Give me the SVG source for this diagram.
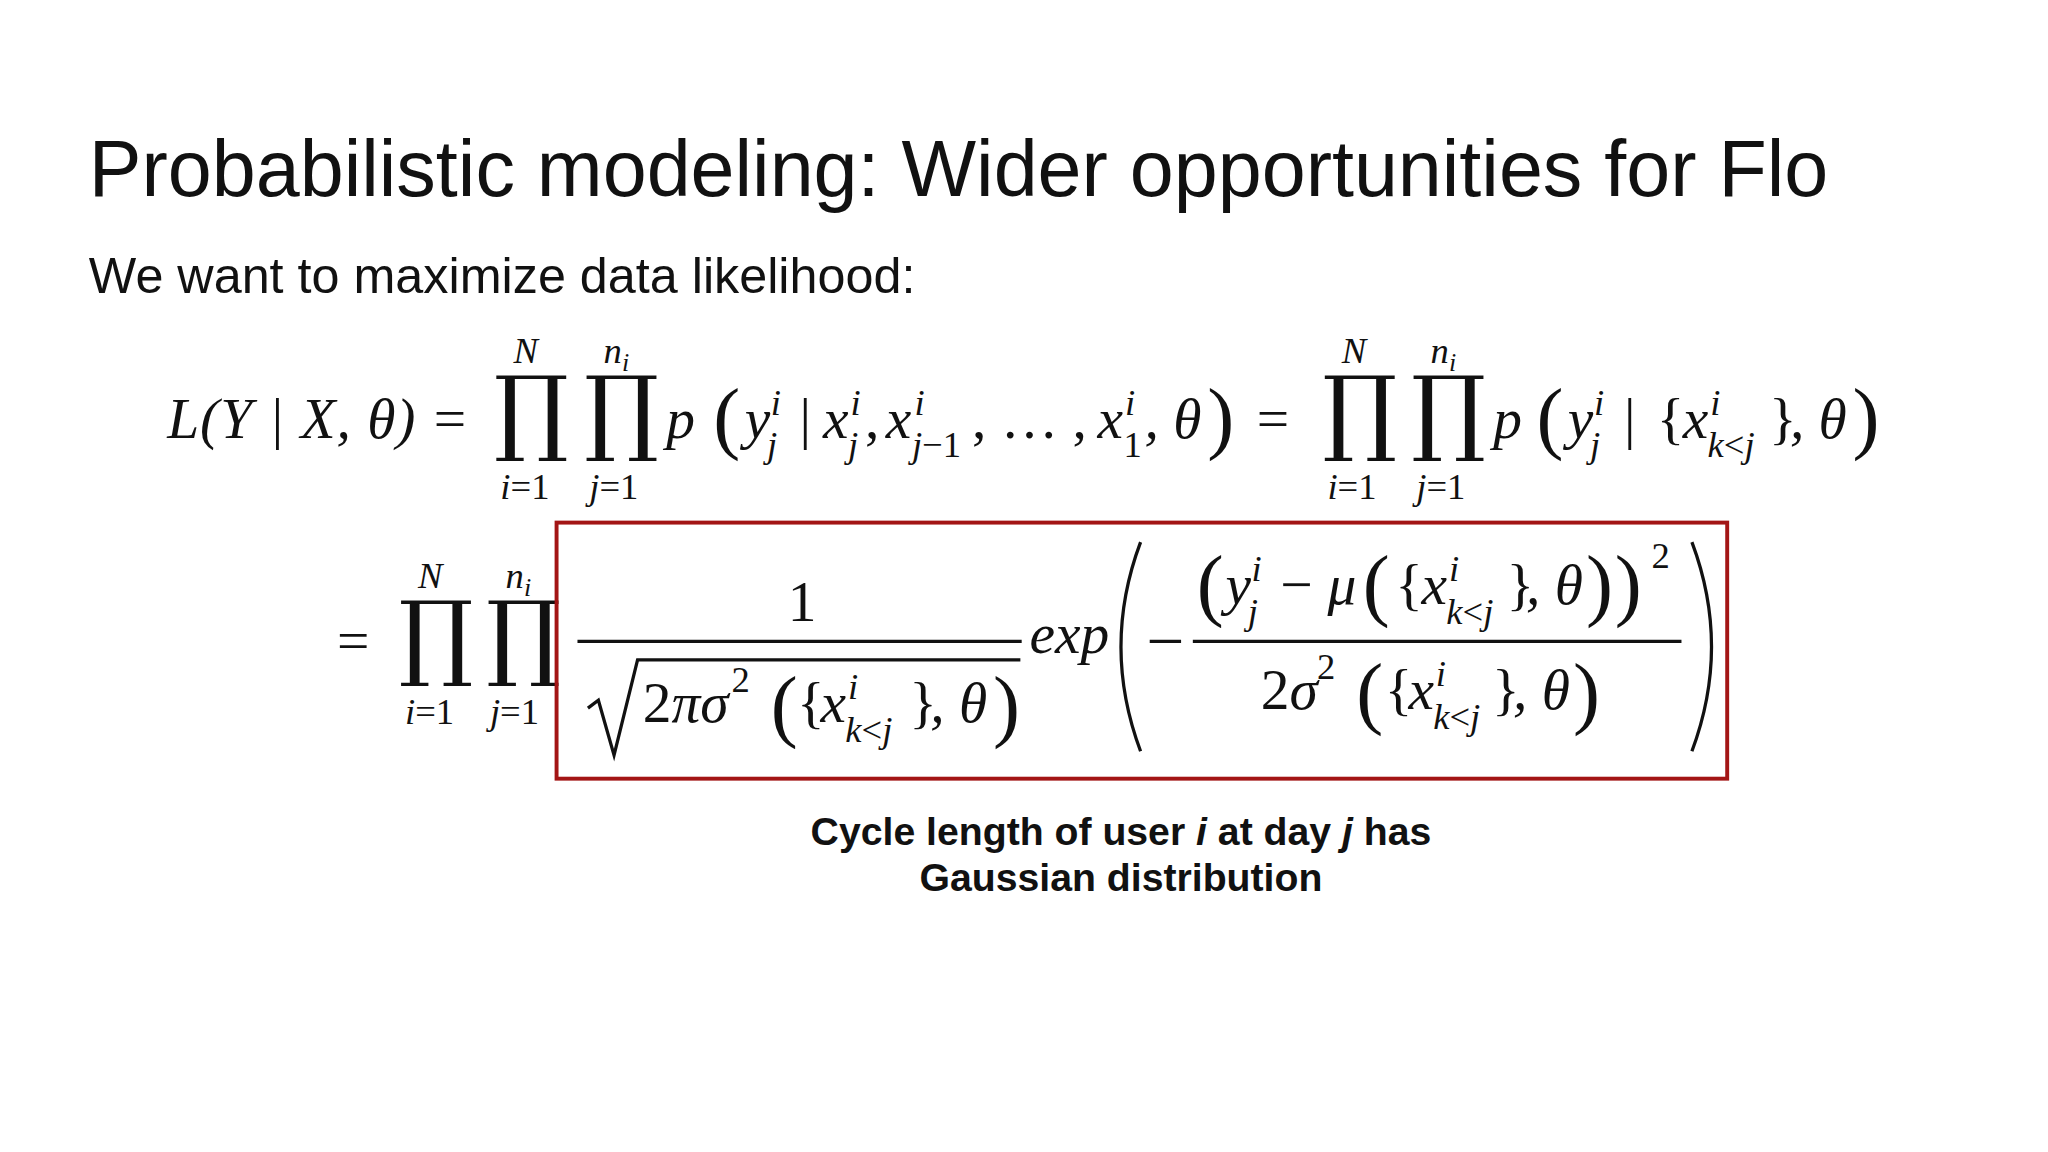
<svg xmlns="http://www.w3.org/2000/svg" width="2048" height="1152" viewBox="0 0 2048 1152">
<style>
.t{font-family:"Liberation Sans",Arial,sans-serif;fill:#111}
.m{font-family:"Liberation Serif","Times New Roman",serif;font-style:italic;font-size:44px;fill:#111}
.r{font-style:normal}
.s{font-size:28px}
.b{font-size:62px;font-style:normal}
.P{font-family:"DejaVu Serif",serif;font-size:72px;fill:#111;font-style:normal}
.ln{stroke:#111;stroke-width:2.5;fill:none}
.cap{font-family:"Liberation Sans",Arial,sans-serif;font-weight:bold;font-size:30px;fill:#111;text-anchor:middle}
</style>
<rect width="2048" height="1152" fill="#fff"/>
<g transform="scale(1.3065)">
<g id="title"><text class="t" x="68" y="150" font-size="60.5">Probabilistic modeling: Wider opportunities for Flo</text></g>
<g id="subtitle"><text class="t" x="68" y="224" font-size="38.5">We want to maximize data likelihood:</text></g>
<g id="eq1">
<text class="m" x="128" y="335" textLength="190">L(Y | X, θ)</text>
<text class="m r" x="332" y="335">=</text>
<text class="P" x="378" y="339">∏</text><text class="P" x="447" y="339">∏</text>
<text class="m s" x="393" y="278">N</text><text class="m s" x="462" y="278">n<tspan dy="6" font-size="20">i</tspan></text>
<text class="m s" x="383" y="382">i<tspan class="r">=1</tspan></text><text class="m s" x="451" y="382">j<tspan class="r">=1</tspan></text>
<text class="m" x="510" y="335">p</text>
<text class="m b" x="546" y="340">(</text>
<text class="m" x="570" y="335">y</text><text class="m s" x="590" y="318">i</text><text class="m s" x="587" y="350">j</text>
<text class="m r" x="612" y="335">|</text>
<text class="m" x="630" y="335">x</text><text class="m s" x="651" y="318">i</text><text class="m s" x="649" y="350">j</text>
<text class="m r" x="662" y="335">,</text>
<text class="m" x="678" y="335">x</text><text class="m s" x="700" y="318">i</text><text class="m s" x="698" y="350">j<tspan class="r">−1</tspan></text>
<text class="m r" x="744" y="335">, … ,</text>
<text class="m" x="840" y="335">x</text><text class="m s" x="861" y="318">i</text><text class="m s r" x="860" y="350">1</text>
<text class="m" x="876" y="335">, θ</text>
<text class="m b" x="924" y="340">)</text>
<text class="m r" x="962" y="335">=</text>
<text class="P" x="1012" y="339">∏</text><text class="P" x="1080" y="339">∏</text>
<text class="m s" x="1027" y="278">N</text><text class="m s" x="1095" y="278">n<tspan dy="6" font-size="20">i</tspan></text>
<text class="m s" x="1016" y="382">i<tspan class="r">=1</tspan></text><text class="m s" x="1084" y="382">j<tspan class="r">=1</tspan></text>
<text class="m" x="1143" y="335">p</text>
<text class="m b" x="1176" y="340">(</text>
<text class="m" x="1200" y="335">y</text><text class="m s" x="1220" y="318">i</text><text class="m s" x="1217" y="350">j</text>
<text class="m r" x="1243" y="335">|</text>
<text class="m r" x="1268" y="335">{</text>
<text class="m" x="1288" y="335">x</text><text class="m s" x="1309" y="318">i</text><text class="m s" x="1307" y="350">k<tspan class="r">&lt;</tspan>j</text>
<text class="m r" x="1354" y="335">}</text>
<text class="m" x="1370" y="335">, θ</text>
<text class="m b" x="1418" y="340">)</text>
</g>
<g id="eq2">
<text class="m r" x="258" y="505">=</text>
<text class="P" x="305" y="511">∏</text><text class="P" x="372" y="511">∏</text>
<text class="m s" x="320" y="450">N</text><text class="m s" x="387" y="450">n<tspan dy="6" font-size="20">i</tspan></text>
<text class="m s" x="310" y="554">i<tspan class="r">=1</tspan></text><text class="m s" x="375" y="554">j<tspan class="r">=1</tspan></text>
</g>
<g id="gaussian-box">
<rect x="426" y="400" width="896" height="196" fill="none" stroke="#a31515" stroke-width="3"/>
<text class="m r" x="603" y="475">1</text>
<line class="ln" x1="442" y1="491" x2="782" y2="491"/>
<path class="ln" d="M450,542 L458,536 L470,578 L488,505 L781,505"/>
<text class="m r" x="492" y="553">2<tspan font-style="italic">πσ</tspan></text>
<text class="m s r" x="560" y="530">2</text>
<text class="m b" x="590" y="560">(</text>
<text class="m r" x="610" y="553">{</text>
<text class="m" x="628" y="553">x</text><text class="m s" x="649" y="535">i</text><text class="m s" x="647" y="568">k<tspan class="r">&lt;</tspan>j</text>
<text class="m r" x="696" y="553">}</text>
<text class="m" x="712" y="553">, θ</text>
<text class="m b" x="760" y="560">)</text>
<text class="m" x="788" y="500">exp</text>
<path class="ln" stroke-width="3" d="M873,415 Q843,495 873,575"/>
<line class="ln" x1="880" y1="491" x2="904" y2="491"/>
<line class="ln" x1="913" y1="491" x2="1287" y2="491"/>
<text class="m b" x="916" y="468">(</text>
<text class="m" x="938" y="462">y</text><text class="m s" x="958" y="445">i</text><text class="m s" x="955" y="478">j</text>
<text class="m r" x="980" y="462">−</text>
<text class="m" x="1016" y="462">μ</text>
<text class="m b" x="1043" y="468">(</text>
<text class="m r" x="1068" y="462">{</text>
<text class="m" x="1088" y="462">x</text><text class="m s" x="1109" y="445">i</text><text class="m s" x="1107" y="478">k<tspan class="r">&lt;</tspan>j</text>
<text class="m r" x="1153" y="462">}</text>
<text class="m" x="1168" y="462">, θ</text>
<text class="m b" x="1214" y="468">)</text><text class="m b" x="1236" y="468">)</text>
<text class="m s r" x="1264" y="435">2</text>
<text class="m r" x="965" y="543">2<tspan font-style="italic">σ</tspan></text>
<text class="m s r" x="1008" y="520">2</text>
<text class="m b" x="1038" y="550">(</text>
<text class="m r" x="1060" y="543">{</text>
<text class="m" x="1078" y="543">x</text><text class="m s" x="1099" y="525">i</text><text class="m s" x="1097" y="558">k<tspan class="r">&lt;</tspan>j</text>
<text class="m r" x="1142" y="543">}</text>
<text class="m" x="1158" y="543">, θ</text>
<text class="m b" x="1204" y="550">)</text>
<path class="ln" stroke-width="3" d="M1295,415 Q1325,495 1295,575"/>
</g>
<g id="caption">
<text class="cap" x="858" y="647">Cycle length of user <tspan font-style="italic">i</tspan> at day <tspan font-style="italic">j</tspan> has</text>
<text class="cap" x="858" y="682">Gaussian distribution</text>
</g>
</g>
</svg>
